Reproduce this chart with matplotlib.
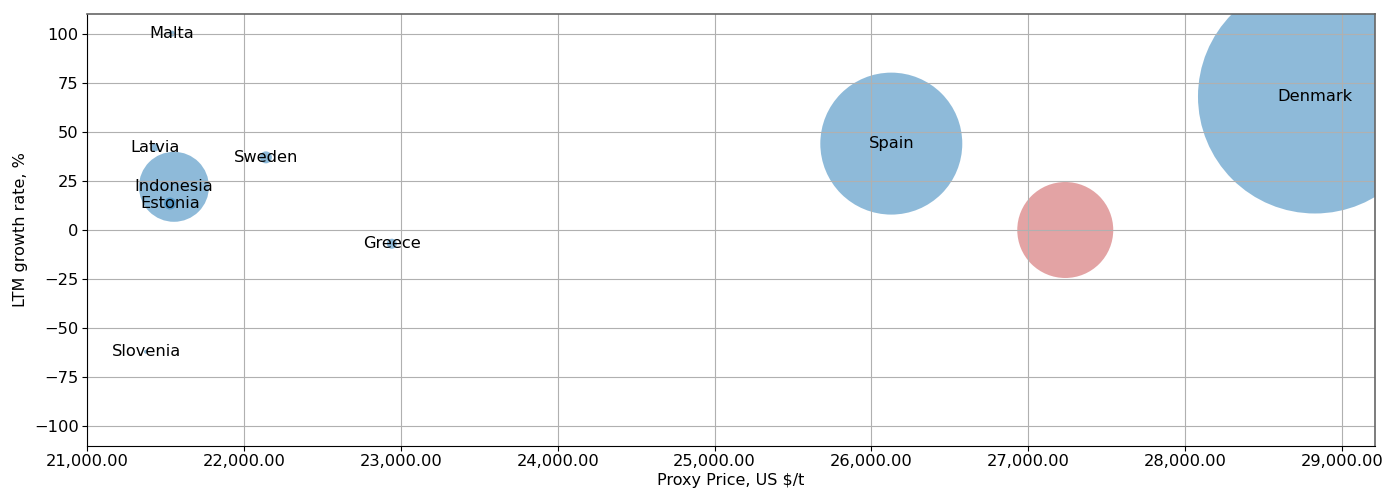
import matplotlib
matplotlib.use("Agg")
import matplotlib.pyplot as plt
from matplotlib.ticker import FuncFormatter

countries = ["Malta", "Latvia", "Indonesia", "Estonia", "Sweden", "Greece",
             "Slovenia", "Spain", "", "Denmark"]
price = [21541, 21433, 21554, 21529, 22140, 22943, 21376, 26127, 27236, 28828]
growth = [100, 42, 22, 13.5, 37, -7, -62, 44, 0, 68]
volume = [19, 33, 2540, 75, 75, 52, 8, 10450, 4776, 28390]
colors = ["#1f77b4"] * 8 + ["#c8484a", "#1f77b4"]

fig, ax = plt.subplots(figsize=(13.86, 4.9), dpi=100)
fig.subplots_adjust(left=0.0628, right=0.992, top=0.9714, bottom=0.0898)

ax.scatter(price, growth, s=volume, c=colors, alpha=0.5, linewidths=0)

# country labels sit on the bubble centres
for name, x, y in zip(countries, price, growth):
    if name:
        ax.text(x, y, name, ha="center", va="center", fontsize=11.7)

ax.set_xlim(21000, 29210)
ax.set_ylim(-110, 110)
ax.xaxis.set_major_formatter(FuncFormatter(lambda v, p: f"{v:,.2f}"))
ax.grid(True)

for side in ("top", "right"):
    ax.spines[side].set_color("#666666")
    ax.spines[side].set_linewidth(1.2)

ax.set_xlabel("Proxy Price, US $/t", fontsize=11.5, labelpad=3)
ax.set_ylabel("LTM growth rate, %", fontsize=11.5)
ax.tick_params(axis="both", labelsize=11.7, pad=2.5)

plt.savefig("out.png")
